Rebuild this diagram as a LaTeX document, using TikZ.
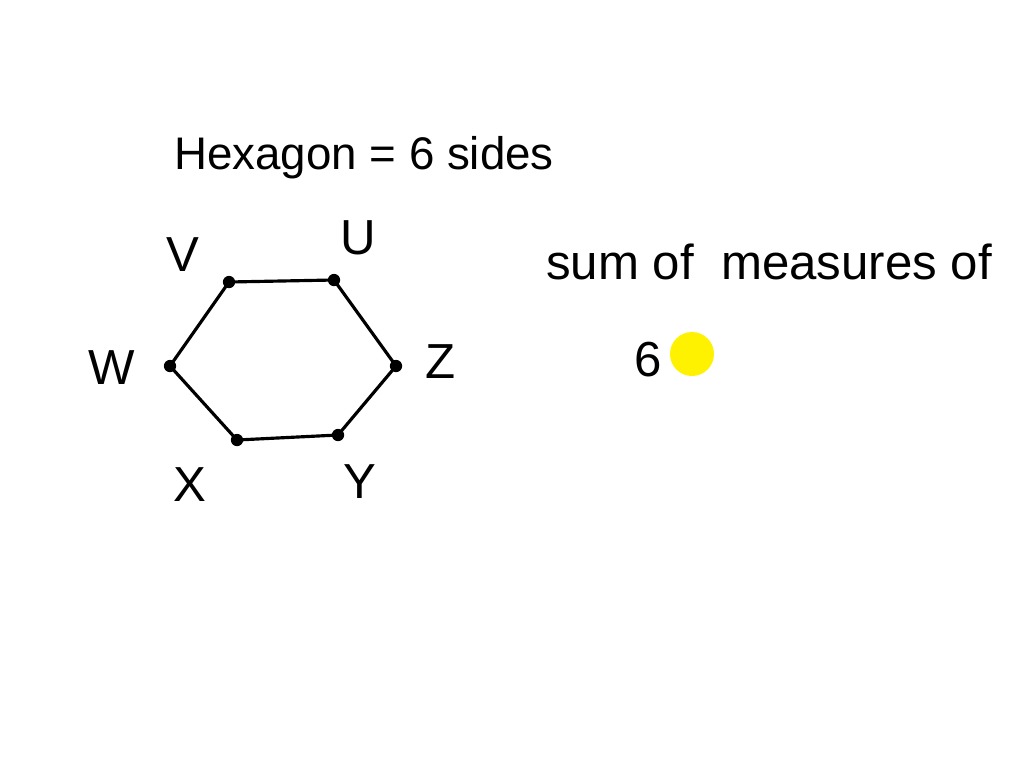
\documentclass[tikz,border=0pt]{standalone}
\usepackage{fontspec}
\setmainfont{Liberation Sans}
\begin{document}
\begin{tikzpicture}[x=0.02cm,y=-0.02cm,
  hand/.style={font=\fontsize{26}{30}\selectfont, inner sep=0pt, text=black},
  vlabel/.style={font=\fontsize{28}{32}\selectfont, inner sep=0pt, text=black},
  edge/.style={draw=black, line width=1.8pt, line join=round, line cap=round},
  vdot/.style={circle, fill=black, minimum size=7pt, inner sep=0pt}]
\useasboundingbox[fill=white] (0,0) rectangle (1024,768);
% vertices
\node[vdot] (V) at (229,282) {};
\node[vdot] (U) at (334,280) {};
\node[vdot] (Z) at (396,366) {};
\node[vdot] (Y) at (338,435) {};
\node[vdot] (X) at (237,440) {};
\node[vdot] (W) at (170,366) {};
\draw[edge] (V.center) -- (U.center) -- (Z.center) -- (Y.center) -- (X.center) -- (W.center) -- cycle;
% vertex labels
\node[vlabel] (lV) at (183,255) {V};
\node[vlabel] (lU) at (358,238) {U};
\node[vlabel] (lZ) at (441,362) {Z};
\node[vlabel] (lY) at (360,482) {Y};
\node[vlabel] (lX) at (190,485) {X};
\node[vlabel] (lW) at (112,368) {W};
% texts
\node[hand] (title) at (364,158) {Hexagon = 6 sides};
\node[hand, font=\fontsize{28}{32}\selectfont] (sum) at (769,262) {sum of\ \ measures of};
\node[hand, font=\fontsize{28}{32}\selectfont] (six) at (648,360) {6};
\node[circle, fill=yellow, minimum size=0.88cm, inner sep=0pt] (dot) at (692,354) {};
\end{tikzpicture}
\end{document}
